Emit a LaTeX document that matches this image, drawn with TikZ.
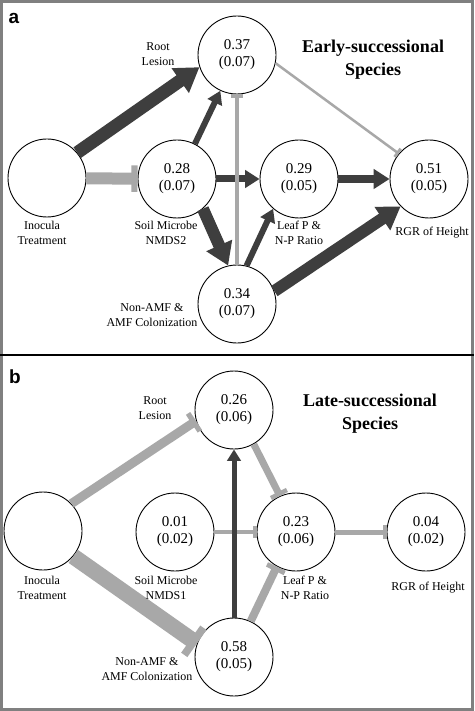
\documentclass[tikz,border=0pt]{standalone}
\usepackage{fontspec}
\setmainfont{Liberation Serif}
\newfontfamily\letterfont{Liberation Sans}
\usetikzlibrary{arrows.meta}
\definecolor{dkc}{HTML}{3E3E3E}
\definecolor{ltc}{HTML}{A8A8A8}
\definecolor{framec}{HTML}{808080}
\tikzset{
  var/.style={circle, draw=black, line width=0.9pt, fill=white, minimum size=78pt, inner sep=0pt,
    align=center, font=\fontsize{15}{17}\selectfont},
  lab/.style={align=center, font=\fontsize{12}{14.5}\selectfont, inner sep=0pt},
  ttl/.style={align=center, font=\bfseries\fontsize{18}{23}\selectfont, inner sep=0pt},
  plet/.style={font=\letterfont\bfseries\fontsize{19}{19}\selectfont, inner sep=0pt},
  posarrow/.style={draw=dkc, -{Triangle[width=4pt 1.9,length=4pt 1.5]}},
  negarrow/.style={draw=ltc, -{Bar[width=6pt 1.7,line width=2pt 0.35]}},
}
\begin{document}
\begin{tikzpicture}[x=1pt,y=-1pt]
\useasboundingbox (0,0) rectangle (474,711);
\fill[white] (0,0) rectangle (474,711);
\draw[framec, line width=3pt] (1.5,1.5) rectangle (472.5,709.5);
\draw[black, line width=1.5pt] (0,355) -- (474,355);

% ---------- panel a ----------
\node[plet] (la) at (14,18) {a};
\node[ttl] (ta) at (373,60) {Early-successional\\Species};
\node[var] (aroot) at (237,55) {0.37\\(0.07)};
\node[var] (ainoc) at (47,178) {};
\node[var] (asoil) at (177,179) {0.28\\(0.07)};
\node[var] (aleaf) at (299,179) {0.29\\(0.05)};
\node[var] (argr) at (429,179) {0.51\\(0.05)};
\node[var] (aamf) at (237,304) {0.34\\(0.07)};

\draw[posarrow, line width=13pt] (ainoc.40) -- (aroot.198);
\draw[negarrow, line width=12pt] (ainoc) -- (asoil);
\draw[posarrow, line width=6pt] (asoil.63) -- (aroot.245);
\draw[posarrow, line width=7pt] (asoil) -- (aleaf);
\draw[posarrow, line width=8pt] (aleaf) -- (argr);
\draw[posarrow, line width=12pt] (asoil.-49) -- (aamf.103);
\draw[posarrow, line width=6pt] (aamf.76) -- (aleaf.229);
\draw[posarrow, line width=12pt] (aamf.19) -- (argr.224);
\draw[negarrow, line width=4pt] (aamf) -- (aroot);
\draw[negarrow, line width=2.5pt] (aroot.-12) -- (argr.140);

\node[lab] (laroot) at (158,54) {Root\\Lesion};
\node[lab] (lainoc) at (42,233) {Inocula\\Treatment};
\node[lab] (lasoil) at (166,233) {Soil Microbe\\NMDS2};
\node[lab] (laleaf) at (299,233) {Leaf P \&\\N-P Ratio};
\node[lab] (largr) at (432,233) {RGR of Height};
\node[lab] (laamf) at (152,315) {Non-AMF \&\\AMF Colonization};

% ---------- panel b ----------
\node[plet] (lb) at (15,377) {b};
\node[ttl] (tb) at (370,414) {Late-successional\\Species};
\node[var] (broot) at (234,410) {0.26\\(0.06)};
\node[var] (binoc) at (43,531) {};
\node[var] (bsoil) at (175,532) {0.01\\(0.02)};
\node[var] (bleaf) at (296,532) {0.23\\(0.06)};
\node[var] (brgr) at (426,532) {0.04\\(0.02)};
\node[var] (bamf) at (234,657) {0.58\\(0.05)};

\draw[negarrow, line width=9pt] (binoc.44) -- (broot.196);
\draw[negarrow, line width=16pt] (binoc.-40) -- (bamf.160);
\draw[negarrow, line width=7pt] (broot.-60) -- (bleaf.114);
\draw[negarrow, line width=4pt] (bsoil) -- (bleaf);
\draw[negarrow, line width=8pt] (bamf.65) -- (bleaf.241);
\draw[negarrow, line width=5pt] (bleaf) -- (brgr);
\draw[posarrow, line width=5pt] (bamf) -- (broot);

\node[lab] (lbroot) at (155,408) {Root\\Lesion};
\node[lab] (lbinoc) at (42,588) {Inocula\\Treatment};
\node[lab] (lbsoil) at (166,588) {Soil Microbe\\NMDS1};
\node[lab] (lbleaf) at (305,588) {Leaf P \&\\N-P Ratio};
\node[lab] (lbrgr) at (428,588) {RGR of Height};
\node[lab] (lbamf) at (147,669) {Non-AMF \&\\AMF Colonization};
\end{tikzpicture}
\end{document}
